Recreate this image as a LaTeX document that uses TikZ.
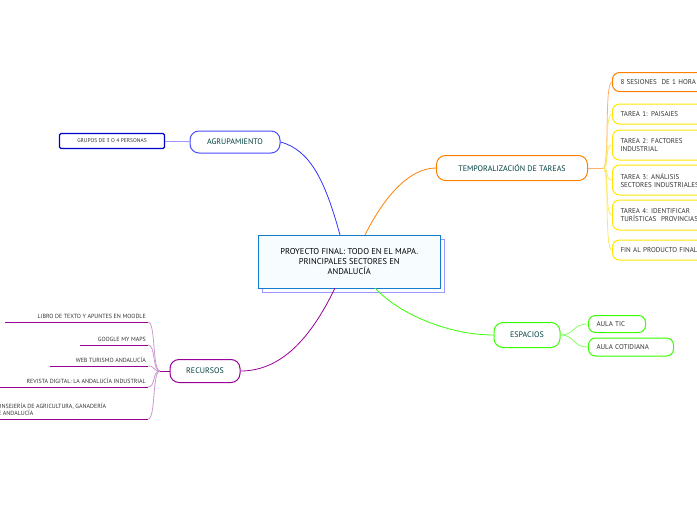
\documentclass[tikz,border=0pt]{standalone}
\usepackage{fontspec}
\setmainfont{PT Sans}
\begin{document}
\begin{tikzpicture}[x=1pt,y=-1pt,
 txt/.style={text=black!80, font=\fontsize{7}{8}\selectfont},
 topic/.style={draw, line width=1pt, rounded corners=9pt, fill=white, text=teal!50!black, font=\fontsize{8}{9}\selectfont, align=center},
 sub/.style={draw, line width=1pt, rounded corners=7pt, fill=white, txt, align=left, anchor=west, inner xsep=8pt, text width=100pt},
 lnk/.style={line width=0.8pt}]
\useasboundingbox (0,0) rectangle (697,520);
% central
\fill[white,draw=blue!40] (262,239) rectangle (444,292);
\node[draw=cyan!60!blue, fill=cyan!3, minimum width=182pt, minimum height=53pt, anchor=north west, align=center, font=\fontsize{8.5}{10}\selectfont, text=black] (c) at (258,235) {PROYECTO FINAL: TODO EN EL MAPA.\\PRINCIPALES SECTORES EN\\ANDALUCÍA};
% agrupamiento
\node[topic, draw=blue!70, minimum width=90pt, minimum height=22pt] (ag) at (235,142) {AGRUPAMIENTO};
\node[draw=blue!80!black, line width=1.2pt, rounded corners=1.5pt, txt, font=\fontsize{5.5}{6}\selectfont, minimum width=105pt, minimum height=15pt] (gr) at (112,141) {GRUPOS DE 3 O 4 PERSONAS};
\draw[lnk, blue!40] (gr) -- (ag);
\draw[lnk, blue!80] (340,235) .. controls (325,180) and (310,150) .. (ag.east);
% temporalizacion
\node[topic, draw=orange, minimum width=151pt, minimum height=25pt] (tm) at (512,168) {TEMPORALIZACIÓN DE TAREAS};
\draw[lnk, orange] (365,235) .. controls (385,195) and (410,168) .. (tm.west);
\coordinate (th) at (603,168);
\draw[lnk, orange!60] (tm.east) -- (th);
\node[sub, draw=orange, minimum height=19pt] (t0) at (612,82) {8 SESIONES \ DE 1 HORA};
\node[sub, draw=yellow!90!orange, minimum height=20pt] (t1) at (612,114) {TAREA 1: PAISAJES};
\node[sub, draw=yellow!90!orange, minimum height=30pt] (t2) at (612,145) {TAREA 2: FACTORES\\INDUSTRIAL};
\node[sub, draw=yellow!90!orange, minimum height=30pt] (t3) at (612,180) {TAREA 3: ANÁLISIS\\SECTORES INDUSTRIALES};
\node[sub, draw=yellow!90!orange, minimum height=30pt] (t4) at (612,215) {TAREA 4: IDENTIFICAR\\TURÍSTICAS \ PROVINCIAS};
\node[sub, draw=yellow!90!orange, minimum height=20pt] (t5) at (612,250) {FIN AL PRODUCTO FINAL};
\draw[lnk, orange!60] (th) .. controls (610,168) and (604,82) .. (t0.west);
\foreach \n in {t1,t2,t3,t4,t5}
  \draw[lnk, yellow!80!orange!60] (th) .. controls (610,168) and (604,0 |- \n.west) .. (\n.west);
% espacios
\node[topic, draw=green!70!lime, minimum width=66pt, minimum height=25pt] (es) at (527,335) {ESPACIOS};
\draw[lnk, green!70!lime] (375,288) .. controls (400,315) and (450,335) .. (es.west);
\node[sub, draw=green!70!lime, minimum height=17pt, text width=41pt] (a1) at (588,324) {AULA TIC};
\node[sub, draw=green!70!lime, minimum height=18pt, text width=69pt] (a2) at (588,347) {AULA COTIDIANA};
\draw[lnk, green!70!lime!60] (es.east) .. controls (575,335) and (572,324) .. (a1.west);
\draw[lnk, green!70!lime!60] (es.east) .. controls (575,335) and (572,347) .. (a2.west);
% recursos
\node[topic, draw=violet!80!magenta, minimum width=70pt, minimum height=23pt] (re) at (205,371) {RECURSOS};
\draw[lnk, violet!80!magenta] (335,288) .. controls (310,340) and (280,371) .. (re.east);
\coordinate (rh) at (160,371);
\draw[lnk, violet!80!magenta] (re.west) -- (rh);
\tikzset{ul/.style={txt, font=\fontsize{6}{7}\selectfont, anchor=south east, inner sep=2pt, align=left}}
\node[ul] (r1) at (148,321) {LIBRO DE TEXTO Y APUNTES EN MOODLE};
\node[ul] (r2) at (148,344) {GOOGLE MY MAPS};
\node[ul] (r3) at (148,365) {WEB TURISMO ANDALUCÍA};
\node[ul] (r4) at (148,386) {REVISTA DIGITAL: LA ANDALUCÍA INDUSTRIAL};
\node[ul, anchor=south west] (r5) at (-8,418) {CONSEJERÍA DE AGRICULTURA, GANADERÍA\\DE ANDALUCÍA};
\foreach \n/\x/\y in {r1/5/322,r2/80/345,r3/50/366,r4/0/387,r5/0/419}{
  \draw[line width=1pt, violet!80!magenta] (\x,\y) -- (148,\y);
  \draw[lnk, violet!40] (rh) .. controls (152,371) and (156,\y) .. (148,\y);
}
\end{tikzpicture}
\end{document}
